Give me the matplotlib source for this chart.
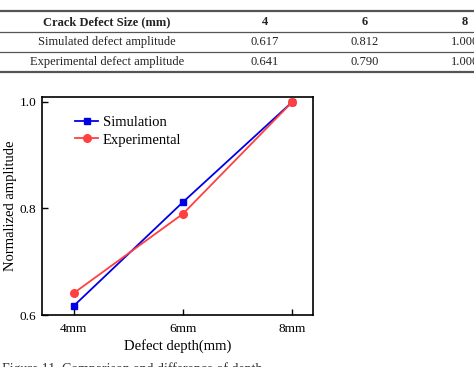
import matplotlib
matplotlib.use("Agg")
import matplotlib.pyplot as plt
from matplotlib.lines import Line2D

# ---- data ----
depth_labels = ["4mm", "6mm", "8mm"]
table_sizes = ["4", "6", "8"]
sim_amp = [0.617, 0.812, 1.000]
exp_amp = [0.641, 0.790, 1.000]
row_names = ["Simulated defect amplitude", "Experimental defect amplitude"]
header_name = "Crack Defect Size (mm)"
yticks = [0.6, 0.8, 1.0]

W, H = 474, 367
fig = plt.figure(figsize=(W / 100, H / 100), dpi=100)
plt.rcParams['font.family'] = ['Liberation Serif', 'DejaVu Serif']

def fx(px):
    return px / W

def fy(py):
    return 1 - py / H

# ---- table ----
line_col = '#555555'
for y, lw in [(11, 1.6), (32, 0.9), (52, 0.9), (72, 1.6)]:
    fig.add_artist(Line2D([0, 1], [fy(y), fy(y)], transform=fig.transFigure,
                          color=line_col, lw=lw))
col_x = [265, 365, 465]
name_x = 107
txt_col = '#222222'
fs_tab = 9
fig.text(fx(name_x), fy(22), header_name, ha='center', va='center',
         fontsize=fs_tab, fontweight='bold', color=txt_col)
for cx, s in zip(col_x, table_sizes):
    fig.text(fx(cx), fy(22), s, ha='center', va='center', fontsize=fs_tab,
             fontweight='bold', color=txt_col)
for ry, name, vals in [(42, row_names[0], sim_amp), (62, row_names[1], exp_amp)]:
    fig.text(fx(name_x), fy(ry), name, ha='center', va='center',
             fontsize=fs_tab, color=txt_col)
    for cx, v in zip(col_x, vals):
        fig.text(fx(cx), fy(ry), f"{v:.3f}", ha='center', va='center',
                 fontsize=fs_tab, color=txt_col)

# ---- chart ----
left, right, top, bottom = 42, 313, 97, 315
ax = fig.add_axes([fx(left), fy(bottom), fx(right - left), (bottom - top) / H])
x = list(range(len(depth_labels)))
ax.plot(x, sim_amp, color='#0000e6', lw=1.3, marker='s', markersize=5,
        label='Simulation')
ax.plot(x, exp_amp, color='#ff4040', lw=1.3, marker='o', markersize=5.5,
        label='Experimental')
ax.set_xlim(-0.29, 2.19)
ax.set_ylim(0.6, 1.0093)
ax.set_xticks(x)
ax.set_xticklabels(depth_labels)
ax.set_yticks(yticks)
ax.set_yticklabels([f"{v:.1f}" for v in yticks])
ax.tick_params(direction='in', length=4, width=1, labelsize=9.5, pad=4)
ax.tick_params(axis='x', pad=6)
for sp in ax.spines.values():
    sp.set_linewidth(1.2)
ax.set_xlabel("Defect depth(mm)", fontsize=10.5, labelpad=3)
ax.set_ylabel("Normalized amplitude", fontsize=10.5, labelpad=2)
ax.legend(loc='upper left', bbox_to_anchor=(0.122, 0.912), frameon=False,
          fontsize=10.5, borderpad=0, borderaxespad=0, handlelength=1.6,
          handletextpad=0.3, labelspacing=0.27)

# ---- cut-off caption ----
fig.text(fx(2), fy(362), "Figure 11. Comparison and difference of depth.",
         ha='left', va='top', fontsize=10, color='#333333')

fig.savefig("out.png", dpi=100)
